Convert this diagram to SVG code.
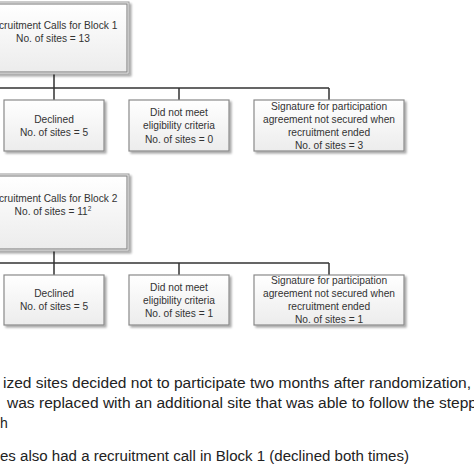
<svg xmlns="http://www.w3.org/2000/svg" width="474" height="474" viewBox="0 0 474 474">
<defs>
<linearGradient id="g" x1="0" y1="0" x2="0" y2="1">
<stop offset="0" stop-color="#ffffff"/>
<stop offset="1" stop-color="#ececec"/>
</linearGradient>
<filter id="sh" x="-10%" y="-10%" width="130%" height="140%">
<feGaussianBlur in="SourceAlpha" stdDeviation="1.2"/>
<feOffset dx="1.5" dy="1.5" result="b"/>
<feComponentTransfer><feFuncA type="linear" slope="0.35"/></feComponentTransfer>
<feMerge><feMergeNode/><feMergeNode in="SourceGraphic"/></feMerge>
</filter>
</defs>
<style>
.box{fill:url(#g);stroke:#8a8a8a;stroke-width:1.2;filter:url(#sh)}
.outer{fill:#f4f4f4;stroke:#9a9a9a;stroke-width:1;filter:url(#sh)}
.inner{fill:url(#g);stroke:#8a8a8a;stroke-width:1.2}
.t{font-family:"Liberation Sans",Arial,sans-serif;font-size:10.2px;fill:#333;text-anchor:middle}
.tl{font-family:"Liberation Sans",Arial,sans-serif;font-size:10.2px;fill:#333}
.fn{font-family:"Liberation Sans",Arial,sans-serif;font-size:14px;fill:#222}
.c{fill:none;stroke:#333;stroke-width:1.5}
</style>
<g id="connectors">
<path class="c" d="M54,73 V88 M0,88 H329 M54,88 V100 M179,88 V100 M329,88 V100"/>
<path class="c" d="M54,250 V263 M0,263 H329 M54,263 V275 M179,263 V275 M329,263 V275"/>
</g>
<g id="block1">
<rect class="outer" x="-24" y="2" width="153" height="72"/>
<rect class="inner" x="-22" y="4" width="149" height="68"/>
<text class="tl" x="-1" y="29">cruitment Calls for Block 1</text>
<text class="t" x="53" y="42">No. of sites = 13</text>
</g>
<g id="declined1">
<rect class="box" x="4" y="100" width="100" height="51"/>
<text class="t" x="54" y="122.5">Declined</text>
<text class="t" x="54" y="136">No. of sites = 5</text>
</g>
<g id="noteligible1">
<rect class="box" x="129" y="100" width="100" height="51"/>
<text class="t" x="179" y="115.5">Did not meet</text>
<text class="t" x="179" y="129">eligibility criteria</text>
<text class="t" x="179" y="142.5">No. of sites = 0</text>
</g>
<g id="signature1">
<rect class="box" x="254" y="100" width="150" height="51"/>
<text class="t" x="329" y="109.5">Signature for participation</text>
<text class="t" x="329" y="122.5">agreement not secured when</text>
<text class="t" x="329" y="135.5">recruitment ended</text>
<text class="t" x="329" y="148.5">No. of sites = 3</text>
</g>
<g id="block2">
<rect class="outer" x="-24" y="174" width="153" height="77"/>
<rect class="inner" x="-22" y="176" width="149" height="73"/>
<text class="tl" x="-1" y="201.5">cruitment Calls for Block 2</text>
<text class="t" x="53" y="215">No. of sites = 11<tspan font-size="6.5" dy="-4">2</tspan></text>
</g>
<g id="declined2">
<rect class="box" x="4" y="275" width="100" height="50"/>
<text class="t" x="54" y="296.5">Declined</text>
<text class="t" x="54" y="310">No. of sites = 5</text>
</g>
<g id="noteligible2">
<rect class="box" x="129" y="275" width="100" height="50"/>
<text class="t" x="179" y="290.5">Did not meet</text>
<text class="t" x="179" y="303.5">eligibility criteria</text>
<text class="t" x="179" y="317">No. of sites = 1</text>
</g>
<g id="signature2">
<rect class="box" x="254" y="275" width="150" height="50"/>
<text class="t" x="329" y="283.5">Signature for participation</text>
<text class="t" x="329" y="296.5">agreement not secured when</text>
<text class="t" x="329" y="310">recruitment ended</text>
<text class="t" x="329" y="323">No. of sites = 1</text>
</g>
<g id="footnotes">
<text class="fn" x="3" y="388" textLength="468" lengthAdjust="spacingAndGlyphs">ized sites decided not to participate two months after randomization,</text>
<text class="fn" x="7" y="408" textLength="470" lengthAdjust="spacingAndGlyphs">was replaced with an additional site that was able to follow the stepp</text>
<text class="fn" x="0" y="428">h</text>
<text class="fn" x="0" y="461" textLength="409" lengthAdjust="spacingAndGlyphs">es also had a recruitment call in Block 1 (declined both times)</text>
</g>
</svg>
